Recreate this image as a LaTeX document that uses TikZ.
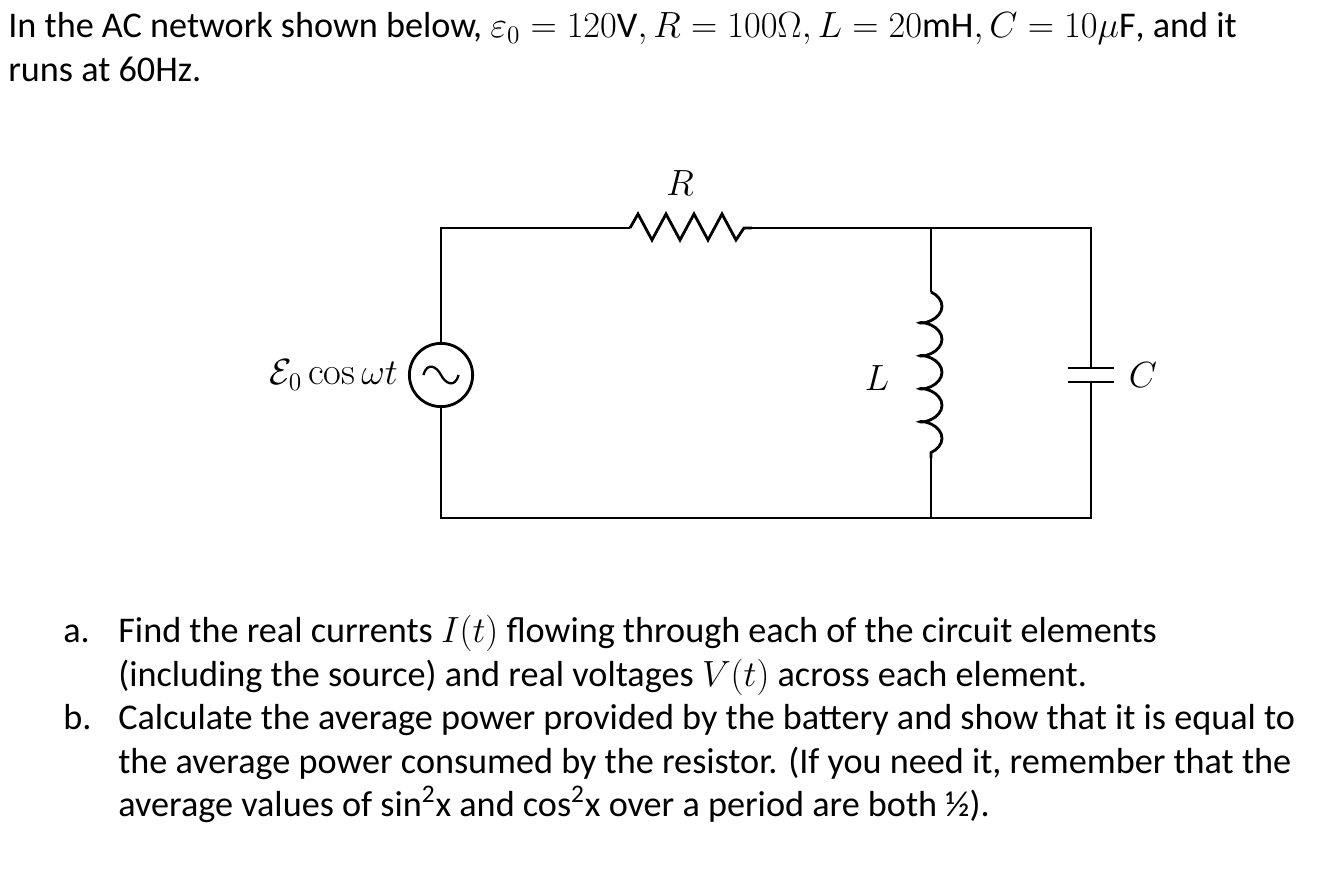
\documentclass[tikz,border=0pt]{standalone}
\usepackage{fontspec}
\setmainfont{Carlito}
\newfontfamily\lmr{Latin Modern Roman}
\usepackage{amsmath}
\usetikzlibrary{decorations.pathmorphing}
\tikzset{
  wire/.style={line width=1.6pt},
  txt/.style={anchor=base west,inner sep=0pt,font=\fontsize{20.6}{24.8}\selectfont},
  lbl/.style={inner sep=1pt,font=\fontsize{22}{26}\selectfont}
}
\begin{document}
\begin{tikzpicture}[x=0.02cm,y=-0.02cm]
  \useasboundingbox (0,0) rectangle (1318,878);
  % problem text
  \node[txt] (t1) at (8,38) {In the AC network shown below, $\varepsilon_0=120\mathrm{V}, R=100\Omega, L=20\mathrm{mH}, C=10\mathrm{\mu F}$, and it};
  \node[txt] (t2) at (8,82) {runs at 60Hz.};
  % circuit corners
  \coordinate (tl) at (441,228);
  \coordinate (bl) at (441,518);
  \coordinate (tm) at (931,228);
  \coordinate (bm) at (931,518);
  \coordinate (tr) at (1091,228);
  \coordinate (br) at (1091,518);
  \coordinate (ra) at (630,228);
  \coordinate (rb) at (752,228);
  \coordinate (la) at (931,292);
  \coordinate (lb) at (931,458);
  \coordinate (ca) at (1091,368);
  \coordinate (cb) at (1091,382);
  \node[circle,draw,line width=1.6pt,minimum size=36,inner sep=0pt] (src) at (441,375) {};
  \draw[line width=1.3pt] ([xshift=-10]src.center) .. controls ++(4,-14) and ++(-4,-8) .. (src.center)
        .. controls ++(4,8) and ++(-4,14) .. ([xshift=10]src.center);
  % wires
  \draw[wire] (src.north) -- (tl) -- (ra);
  \draw[wire] (ra) -- ++(8,-14) -- ++(14,26) -- ++(14,-26) -- ++(14,26) -- ++(14,-26) -- ++(14,26) -- ++(14,-26) -- ++(14,26) -- ++(8,-12) -- (rb);
  \draw[wire] (rb) -- (tr) -- (ca);
  \draw[wire] (cb) -- (br) -- (bl) -- (src.south);
  \draw[wire] (tm) -- (la);
  \draw[wire,decorate,decoration={coil,aspect=0.55,segment length=0.66cm,amplitude=0.22cm}] (la) -- (lb);
  \draw[wire] (lb) -- (bm);
  \draw[wire] ([xshift=-13]ca) -- ([xshift=13]ca);
  \draw[wire] ([xshift=-13]cb) -- ([xshift=13]cb);
  % labels
  \node[lbl] (rl) at (680,183) {$R$};
  \node[lbl] (ll) at (877,378) {$L$};
  \node[lbl] (cl) at (1143,375) {$C$};
  \node[lbl,anchor=east] (el) at (400,375) {$\mathcal{E}_0\,\text{\lmr cos}\,\omega t$};
  % questions
  \node[txt] (qa) at (63,642) {a.};
  \node[txt] (ta1) at (118,642) {Find the real currents $I(t)$ flowing through each of the circuit elements};
  \node[txt] (ta2) at (118,686) {(including the source) and real voltages $V(t)$ across each element.};
  \node[txt] (qb) at (63,729) {b.};
  \node[txt] (tb1) at (118,729) {Calculate the average power provided by the battery and show that it is equal to};
  \node[txt] (tb2) at (118,773) {the average power consumed by the resistor. (If you need it, remember that the};
  \node[txt] (tb3) at (118,816) {average values of sin\textsuperscript{2}x and cos\textsuperscript{2}x over a period are both ½).};
\end{tikzpicture}
\end{document}
